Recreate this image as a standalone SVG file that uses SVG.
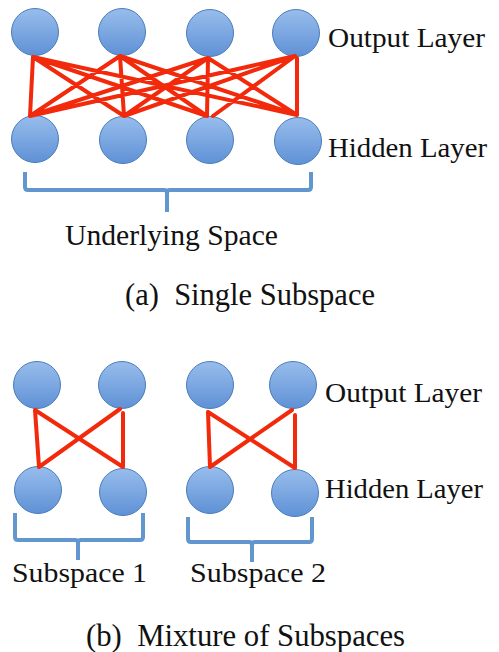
<svg xmlns="http://www.w3.org/2000/svg" width="499" height="652" viewBox="0 0 499 652">
<defs>
<linearGradient id="g" x1="0" y1="0" x2="0" y2="1">
<stop offset="0" stop-color="#98bdec"/>
<stop offset="1" stop-color="#5f91d6"/>
</linearGradient>
</defs>
<style>
.n{fill:url(#g);stroke:#4a7ebb;stroke-width:1}
.e{stroke:#f2290a;stroke-width:4;stroke-linecap:round;fill:none}
.b{stroke:#6196cf;stroke-width:4;fill:none;stroke-linejoin:round;stroke-linecap:butt}
.c{font-family:"Liberation Serif",serif;fill:#111;white-space:pre}
</style>
<rect width="499" height="652" fill="#fff"/>
<g id="top-output">
<circle id="o1" class="n" cx="35" cy="32" r="23.5"/>
<circle id="o2" class="n" cx="122" cy="32" r="23.5"/>
<circle id="o3" class="n" cx="210" cy="33" r="23.5"/>
<circle id="o4" class="n" cx="296" cy="33" r="23.5"/>
</g>
<g id="top-hidden">
<circle id="h1" class="n" cx="35" cy="139" r="23.5"/>
<circle id="h2" class="n" cx="123" cy="140" r="23.5"/>
<circle id="h3" class="n" cx="210" cy="140" r="23.5"/>
<circle id="h4" class="n" cx="298" cy="141" r="23.5"/>
</g>
<g id="bottom-nodes">
<circle id="s1o1" class="n" cx="37" cy="385" r="23.5"/>
<circle id="s1o2" class="n" cx="122" cy="385" r="23.5"/>
<circle id="s1h1" class="n" cx="38" cy="490" r="23.5"/>
<circle id="s1h2" class="n" cx="123" cy="492" r="23.5"/>
<circle id="s2o1" class="n" cx="210" cy="385" r="23.5"/>
<circle id="s2o2" class="n" cx="293" cy="385" r="23.5"/>
<circle id="s2h1" class="n" cx="210" cy="490" r="23.5"/>
<circle id="s2h2" class="n" cx="295" cy="493" r="23.5"/>
</g>
<g id="connectors">
<path class="e" d="M33,57 L30,116 M33,57 L124,116 M33,57 L207,116 M33,57 L297,115
M120,56 L30,116 M120,56 L124,116 M120,56 L207,116 M120,56 L297,115
M208,58 L30,116 M208,58 L124,116 M208,58 L207,116 M208,58 L297,115
M295,56 L30,116 M295,56 L124,116 M295,56 L213,116 M297,58 L297,115"/>
<path class="e" d="M35,410 L39,467 M35,410 L123,467 M120,409 L39,467 M123,413 L123,467"/>
<path class="e" d="M208,412 L210,467 M208,412 L295,468 M292,410 L210,467 M295,415 L295,468"/>
</g>
<g id="braces">
<path class="b" d="M25,172 V187 Q25,190 28,190 H164 Q167,190 167,193 V212 M167,193 Q167,190 170,190 H308 Q311,190 311,187 V172"/>
<path class="b" d="M15,513 V537 Q15,540 18,540 H75 Q78,540 78,543 V560 M78,543 Q78,540 81,540 H140 Q143,540 143,537 V513"/>
<path class="b" d="M188,517 V539 Q188,542 191,542 H249 Q252,542 252,545 V562 M252,545 Q252,542 255,542 H309 Q312,542 312,539 V517"/>
</g>
<g id="labels">
<text class="c" x="328" y="47" font-size="27" textLength="157" lengthAdjust="spacingAndGlyphs">Output Layer</text>
<text class="c" x="328" y="157" font-size="27" textLength="159" lengthAdjust="spacingAndGlyphs">Hidden Layer</text>
<text class="c" x="65" y="245" font-size="30" textLength="213" lengthAdjust="spacingAndGlyphs">Underlying Space</text>
<text class="c" x="125" y="305" font-size="31" textLength="250" lengthAdjust="spacingAndGlyphs">(a)&#160; Single Subspace</text>
<text class="c" x="325" y="402" font-size="27" textLength="157" lengthAdjust="spacingAndGlyphs">Output Layer</text>
<text class="c" x="325" y="498" font-size="27" textLength="158" lengthAdjust="spacingAndGlyphs">Hidden Layer</text>
<text class="c" x="12" y="582" font-size="27" textLength="135" lengthAdjust="spacingAndGlyphs">Subspace 1</text>
<text class="c" x="190" y="582" font-size="27" textLength="136" lengthAdjust="spacingAndGlyphs">Subspace 2</text>
<text class="c" x="86" y="646" font-size="32" textLength="319" lengthAdjust="spacingAndGlyphs">(b)&#160; Mixture of Subspaces</text>
</g>
</svg>
